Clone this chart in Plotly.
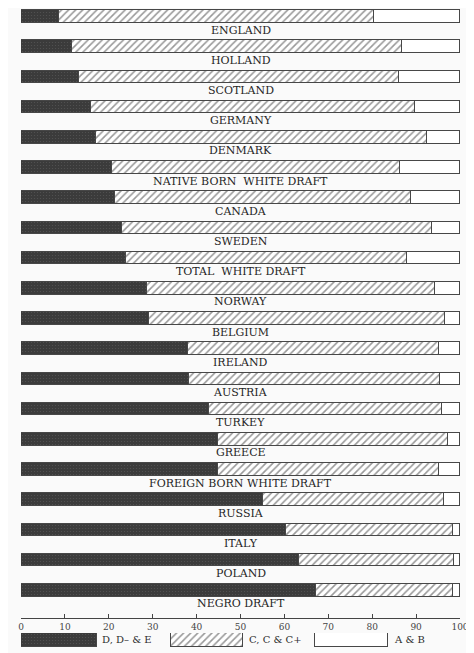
import plotly.graph_objects as go

# groups, percent of each draft group
groups = ["ENGLAND", "HOLLAND", "SCOTLAND", "GERMANY", "DENMARK",
          "NATIVE BORN  WHITE DRAFT", "CANADA", "SWEDEN", "TOTAL  WHITE DRAFT",
          "NORWAY", "BELGIUM", "IRELAND", "AUSTRIA", "TURKEY", "GREECE",
          "FOREIGN BORN WHITE DRAFT", "RUSSIA", "ITALY", "POLAND", "NEGRO DRAFT"]
d_grades = [8.7, 11.7, 13.1, 15.9, 17.1, 20.7, 21.5, 23.1, 24.0, 28.7,
            29.1, 38.0, 38.2, 42.9, 44.8, 44.8, 55.2, 60.3, 63.4, 67.2]
c_grades = [71.8, 75.2, 73.1, 73.8, 75.4, 65.6, 67.3, 70.5, 63.9, 65.5,
            67.5, 57.3, 57.2, 52.9, 52.5, 50.5, 41.2, 38.2, 35.2, 31.3]
ab_grades = [19.5, 13.1, 13.8, 10.3, 7.5, 13.7, 11.2, 6.4, 12.1, 5.8,
             3.4, 4.7, 4.6, 4.2, 2.7, 4.7, 3.6, 1.5, 1.4, 1.5]

legend_names = ["D, D\u2013 & E", "C, C & C+", "A & B"]
legend_x = [0, 34.2, 67.0]
legend_w = [17.2, 16.4, 16.6]

tick_vals = list(range(0, 101, 10))

dark = "#3b3b3b"
edge = "#474747"
bg = "#fafafa"
serif = "DejaVu Serif"

rows = list(range(len(groups)))

fills = [
    dict(color=dark, pattern=dict(shape=".", fgcolor="#6b6b6b", bgcolor=dark,
                                  size=3, solidity=0.12)),
    dict(color="white", pattern=dict(shape="/", fgcolor="#333333",
                                     bgcolor="white", size=5, solidity=0.32)),
    dict(color="white"),
]

fig = go.Figure()
for vals, fill in zip([d_grades, c_grades, ab_grades], fills):
    fig.add_trace(go.Bar(
        y=rows, x=vals, orientation="h", width=0.42,
        marker=dict(line=dict(color=edge, width=1), **fill),
        xaxis="x", yaxis="y", showlegend=False, hoverinfo="skip",
    ))

# legend swatches drawn on a small second axis below the scale
for i in range(3):
    fig.add_trace(go.Bar(
        y=[0], x=[legend_w[i]], base=[legend_x[i]], orientation="h", width=1,
        marker=dict(line=dict(color=edge, width=1), **fills[i]),
        xaxis="x2", yaxis="y2", showlegend=False, hoverinfo="skip",
    ))
    fig.add_annotation(x=legend_x[i] + legend_w[i] + 0.9, y=0, xref="x2", yref="y2",
                       text=legend_names[i], showarrow=False, xanchor="left",
                       font=dict(family=serif, size=10, color="#2e2e2e"))

for i, name in enumerate(groups):
    fig.add_annotation(x=50, y=i + 0.45, xref="x", yref="y", text=name,
                       showarrow=False, xanchor="center", yanchor="middle",
                       font=dict(family=serif, size=11, color="#262626"))

fig.update_layout(
    width=474, height=653,
    margin=dict(l=13, r=22, t=0, b=4),
    barmode="stack", bargap=0,
    paper_bgcolor=bg, plot_bgcolor=bg,
    xaxis=dict(range=[0, 100], tickvals=tick_vals, ticks="inside", ticklen=4,
               tickcolor="#444", showline=True, linecolor="#444", linewidth=1,
               showgrid=False, zeroline=False, anchor="y",
               tickfont=dict(family=serif, size=9, color="#444")),
    yaxis=dict(range=[19.917, -0.281], domain=[0.0601, 1], visible=False,
               showgrid=False, zeroline=False),
    xaxis2=dict(range=[0, 100], anchor="y2", visible=False, showgrid=False),
    yaxis2=dict(range=[-0.5, 0.5], domain=[0.0154, 0.037], visible=False,
                showgrid=False),
)

fig.write_html("out.html")
